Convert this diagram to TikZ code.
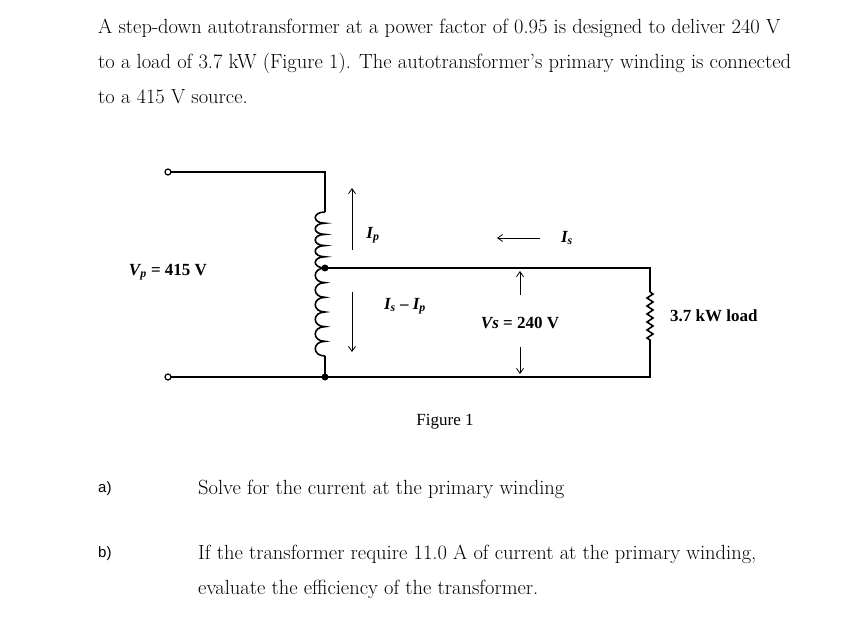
\documentclass[tikz,border=0pt]{standalone}
\usepackage{fontspec}
\newfontfamily\tms{Liberation Serif}
\newfontfamily\ars{Liberation Sans}
\usetikzlibrary{decorations.pathmorphing,arrows.meta}
\begin{document}
\begin{tikzpicture}[x=1pt,y=-1pt,
  txt/.style={anchor=west,inner sep=0pt,font=\fontsize{20.5}{24}\selectfont},
  lab/.style={inner sep=0pt,font=\tms\bfseries\fontsize{17}{20}\selectfont},
  wire/.style={line width=1.6pt},
  arr/.style={-{Straight Barb[length=5pt,width=7pt]},line width=0.8pt},
  dot/.style={circle,fill,inner sep=0pt,minimum size=7pt},
  term/.style={circle,draw,fill=white,line width=1.2pt,inner sep=0pt,minimum size=6pt}]
\useasboundingbox (0,0) rectangle (849,644);
\node[txt] (l1) at (98,28) {A step-down autotransformer at a power factor of 0.95 is designed to deliver 240 V};
\node[txt] (l2) at (98,63) {to a load of 3.7 kW (Figure 1). The autotransformer's primary winding is connected};
\node[txt] (l3) at (98,97) {to a 415 V source.};
% circuit
\coordinate (tt) at (325,172);
\coordinate (c1) at (325,212);
\coordinate (tap) at (325,268);
\coordinate (c2) at (325,356);
\coordinate (bt) at (325,377);
\coordinate (rt) at (650,268);
\coordinate (rb) at (650,377);
\coordinate (r1) at (650,292);
\coordinate (r2) at (650,342);
\draw[wire] (168,172) -- (tt) -- (c1);
\draw[wire] (c1) \foreach \i in {0,...,4}{ .. controls ++(-13,0) and ++(-13,0) .. ++(0,11.2) };
\draw[wire] (tap) \foreach \i in {0,...,5}{ .. controls ++(-13,0) and ++(-13,0) .. ++(0,14.67) };
\draw[wire] (c2) -- (bt);
\draw[wire] (tap) -- (rt) -- (r1);
\draw[wire,decorate,decoration={zigzag,segment length=8pt,amplitude=3pt}] (r1) -- (r2);
\draw[wire] (r2) -- (rb) -- (168,377);
\node[term] (a) at (168,172) {};
\node[term] (b) at (168,377) {};
\node[dot] (d1) at (tap) {};
\node[dot] (d2) at (bt) {};
\draw[arr] (352,250) -- (352,188);
\node[lab] (ip) at (373,235) {\itshape I\textsubscript{\itshape p}};
\draw[arr] (540,238) -- (497,238);
\node[lab] (is) at (567,238) {\itshape I\textsubscript{\itshape s}};
\draw[arr] (352,292) -- (352,352);
\node[lab] (isp) at (405,306) {\itshape I\textsubscript{\itshape s}\upshape\ \textendash\ \itshape I\textsubscript{\itshape p}};
\draw[arr] (520,295) -- (520,271);
\draw[arr] (520,347) -- (520,374);
\node[lab] (vs) at (520,323) {\itshape Vs\upshape\ = 240 V};
\node[lab] (vp) at (168,272) {\itshape V\textsubscript{\itshape p}\upshape\ = 415 V};
\node[lab,anchor=west] (ld) at (670,316) {3.7 kW load};
\node[lab,font=\tms\fontsize{17}{20}\selectfont] (fig) at (445,422) {Figure 1};
\node[anchor=west,inner sep=0pt,font=\ars\fontsize{15}{18}\selectfont] (qa) at (98,489) {a)};
\node[txt] (ta) at (198,489) {Solve for the current at the primary winding};
\node[anchor=west,inner sep=0pt,font=\ars\fontsize{15}{18}\selectfont] (qb) at (98,554) {b)};
\node[txt] (tb1) at (198,554) {If the transformer require 11.0 A of current at the primary winding,};
\node[txt] (tb2) at (198,589) {evaluate the efficiency of the transformer.};
\end{tikzpicture}
\end{document}
